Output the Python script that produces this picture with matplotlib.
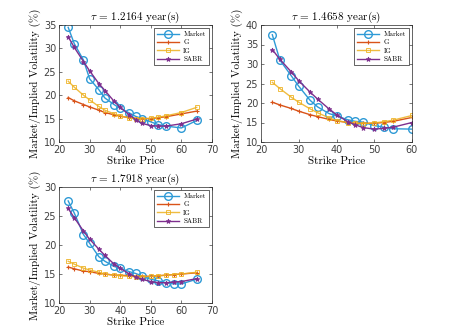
import matplotlib
matplotlib.use("Agg")
import matplotlib.pyplot as plt
import numpy as np

plt.rcParams['mathtext.fontset'] = 'cm'

strikes1 = [23, 25, 28, 30, 33, 35, 38, 40, 43, 45, 47, 50, 52.5, 55, 60, 65]
market1 = [34.5, 31.0, 27.5, 23.5, 21.2, 19.4, 18.0, 17.2, 16.2, 15.5, 15.0, 14.3, 13.7, 13.4, 13.0, 14.6]
g1 = [19.5, 18.8, 18.0, 17.5, 16.8, 16.3, 15.8, 15.5, 15.2, 15.0, 15.0, 15.0, 15.2, 15.4, 16.0, 16.6]
ig1 = [23.0, 21.7, 20.0, 19.0, 17.6, 16.8, 16.0, 15.6, 15.1, 15.0, 14.9, 15.1, 15.3, 15.6, 16.3, 17.4]
sabr1 = [32.5, 30.2, 27.2, 25.2, 22.5, 21.0, 18.7, 17.4, 15.8, 14.8, 14.0, 13.5, 13.4, 13.4, 13.9, 14.9]

strikes2 = [23, 25, 28, 30, 33, 35, 38, 40, 43, 45, 47, 50, 52.5, 55, 60]
market2 = [37.5, 31.0, 27.0, 24.3, 20.7, 19.0, 17.3, 16.7, 15.7, 15.3, 15.1, 14.2, 13.8, 13.4, 13.3]
g2 = [20.2, 19.5, 18.6, 17.9, 17.0, 16.5, 15.8, 15.4, 15.0, 14.8, 14.8, 14.8, 15.0, 15.3, 16.3]
ig2 = [25.3, 23.7, 21.5, 20.2, 18.5, 17.5, 16.2, 15.5, 15.0, 14.8, 14.7, 14.9, 15.2, 15.6, 16.8]
sabr2 = [33.7, 31.2, 28.0, 25.7, 22.8, 21.0, 18.5, 17.0, 15.2, 14.4, 13.7, 13.3, 13.5, 13.8, 15.0]

strikes3 = [23, 25, 28, 30, 33, 35, 38, 40, 43, 45, 47, 50, 52.5, 55, 57.5, 60, 65]
market3 = [27.6, 25.5, 21.8, 20.3, 18.0, 17.2, 16.3, 16.0, 15.4, 15.1, 14.7, 14.1, 13.8, 13.5, 13.3, 13.3, 14.1]
g3 = [16.2, 15.9, 15.5, 15.4, 15.1, 15.0, 14.8, 14.8, 14.7, 14.6, 14.6, 14.6, 14.7, 14.8, 14.9, 15.0, 15.2]
ig3 = [17.2, 16.7, 16.0, 15.7, 15.3, 15.0, 14.8, 14.7, 14.6, 14.5, 14.5, 14.6, 14.7, 14.8, 14.9, 15.0, 15.3]
sabr3 = [26.3, 24.7, 22.4, 21.0, 19.3, 18.2, 16.7, 16.0, 15.0, 14.5, 14.1, 13.7, 13.5, 13.5, 13.6, 13.7, 14.2]

titles = ["1.2164", "1.4658", "1.7918"]
series_labels = ["Market", "G", "IG", "SABR"]

c_market = '#2e9ad6'
c_g = '#d95319'
c_ig = '#edb120'
c_sabr = '#7e2f8e'

fig = plt.figure(figsize=(4.74, 3.32), dpi=100)
W, H = 474, 332

def make_ax(l, r, t, b):
    return fig.add_axes([l / W, 1 - b / H, (r - l) / W, (b - t) / H])

axes = [make_ax(59, 212, 25, 142), make_ax(261, 412, 25, 142), make_ax(59, 212, 187, 303)]
data = [(strikes1, market1, g1, ig1, sabr1, (20, 70), (10, 35), [20, 30, 40, 50, 60, 70], [10, 15, 20, 25, 30, 35]),
        (strikes2, market2, g2, ig2, sabr2, (20, 60), (10, 40), [20, 30, 40, 50, 60], [10, 15, 20, 25, 30, 35, 40]),
        (strikes3, market3, g3, ig3, sabr3, (20, 70), (10, 30), [20, 30, 40, 50, 60, 70], [10, 15, 20, 25, 30])]

serif = 'cmr10'
for ax, (k, m, g, ig, s, xl, yl, xt, yt), ttl in zip(axes, data, titles):
    ax.plot(k, m, '-o', color=c_market, mfc='none', ms=5.5, lw=1.0, mew=1.0, label=series_labels[0])
    ax.plot(k, g, '-+', color=c_g, ms=3.5, lw=1.0, mew=0.8, label=series_labels[1])
    ax.plot(k, ig, '-s', color=c_ig, mfc='none', ms=3, lw=1.0, mew=0.7, alpha=0.85, label=series_labels[2])
    ax.plot(k, s, '-*', color=c_sabr, ms=3.5, lw=1.0, mew=0.6, label=series_labels[3])
    ax.set_xlim(*xl)
    ax.set_ylim(*yl)
    ax.set_xticks(xt)
    ax.set_yticks(yt)
    ax.tick_params(direction='in', length=2.5, width=0.5, labelsize=7, colors='#404040', top=True, right=True, pad=2)
    for sp in ax.spines.values():
        sp.set_linewidth(0.5)
        sp.set_color('#262626')
    ax.set_xlabel('Strike Price', fontsize=8, family=serif, labelpad=1)
    ax.set_ylabel('Market/Implied Volatility (%)', fontsize=8, family=serif, labelpad=2)
    ax.set_title(r'$\tau$ = ' + ttl + ' year(s)', fontsize=8, family=serif, pad=4)
    leg = ax.legend(loc='upper right', prop={'family': serif, 'size': 5}, fancybox=False,
                    edgecolor='#262626', framealpha=1, handlelength=3.2, borderpad=0.4,
                    labelspacing=0.35, handletextpad=0.6, borderaxespad=0.5)
    leg.get_frame().set_linewidth(0.5)

fig.savefig('out.png', dpi=100)
